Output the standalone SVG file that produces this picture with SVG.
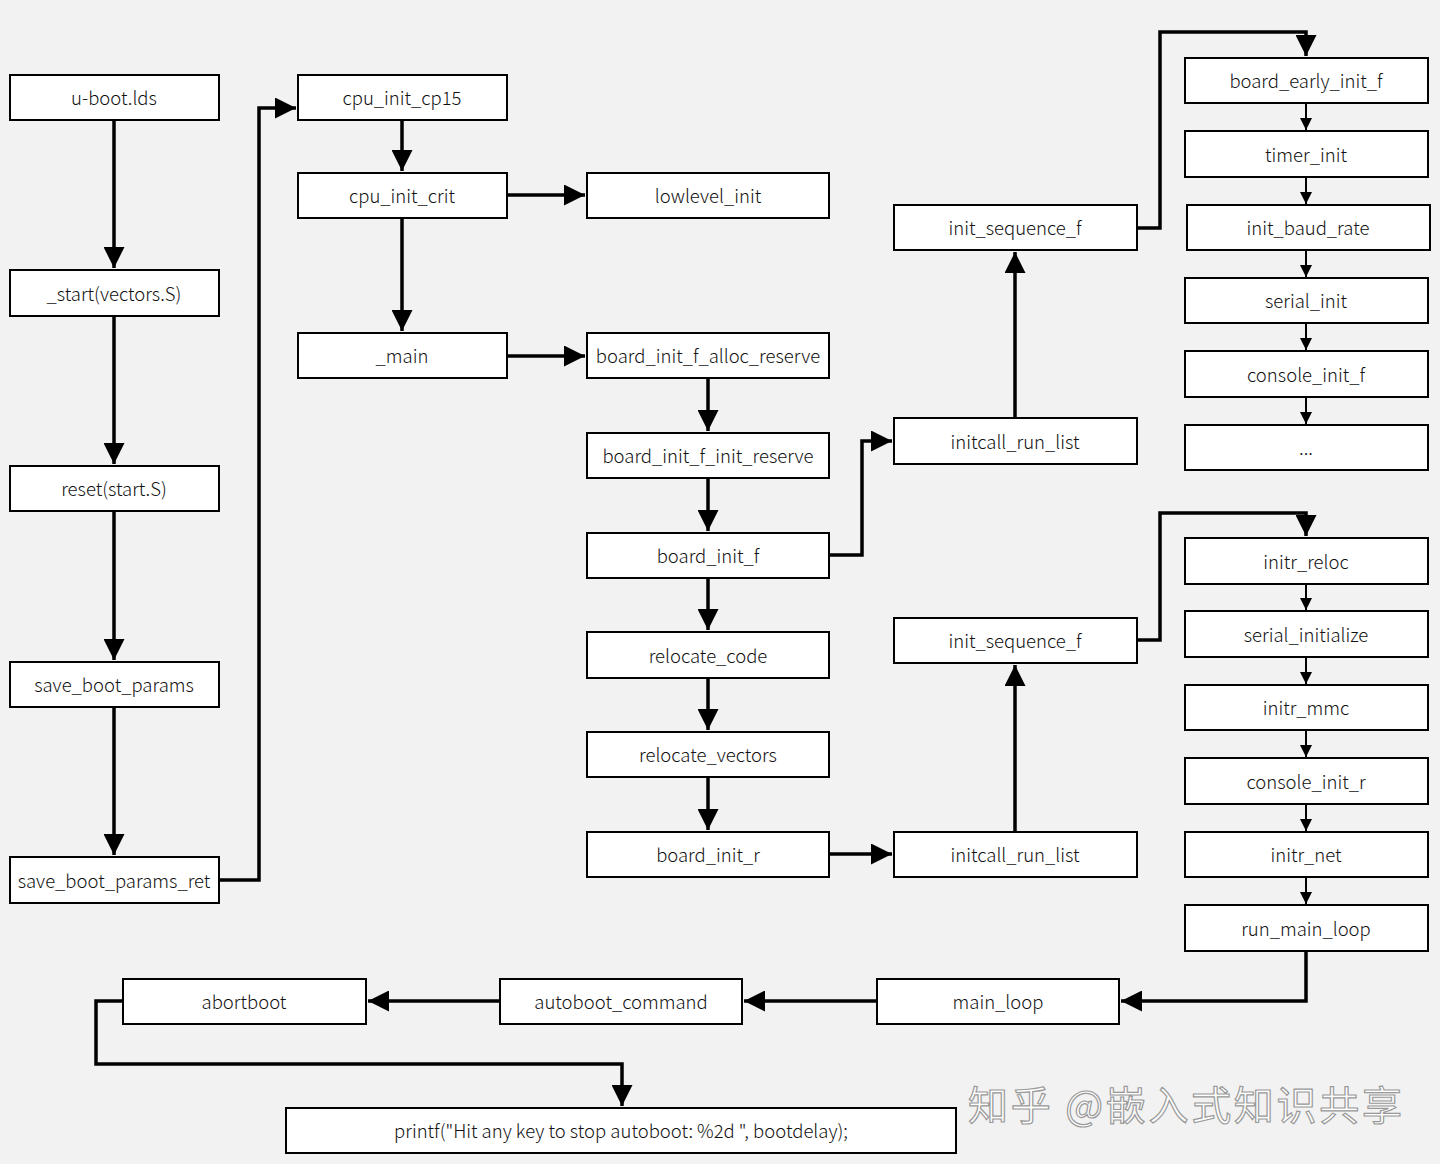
<svg xmlns="http://www.w3.org/2000/svg" width="1440" height="1164" viewBox="0 0 1440 1164">
<style>
.b{fill:#fff;stroke:#000;stroke-width:2}
.t{font-family:"Noto Sans CJK SC","Noto Sans",sans-serif;font-size:18.5px;font-weight:300;fill:#111;text-anchor:middle;dominant-baseline:central}
.c{fill:none;stroke:#000;stroke-width:3.5}
.s{fill:none;stroke:#000;stroke-width:2}
.w{font-family:"Noto Sans CJK SC",sans-serif;font-size:40px;fill:#fff;stroke:#999;stroke-width:1.2}
</style>
<defs>
<marker id="a" viewBox="0 0 10 10" refX="10" refY="5" markerWidth="6" markerHeight="6" markerUnits="strokeWidth" orient="auto"><path d="M0,0L10,5L0,10z"/></marker>
<marker id="m" viewBox="0 0 10 10" refX="10" refY="5" markerWidth="6" markerHeight="6" markerUnits="strokeWidth" orient="auto"><path d="M0,0L10,5L0,10z"/></marker>
</defs>
<rect width="1440" height="1164" fill="#f2f2f2"/>
<g id="connectors">
<path class="c" marker-end="url(#a)" d="M114,120V268"/>
<path class="c" marker-end="url(#a)" d="M114,316V464"/>
<path class="c" marker-end="url(#a)" d="M114,511V660"/>
<path class="c" marker-end="url(#a)" d="M114,707V855"/>
<path class="c" marker-end="url(#a)" d="M219,880H259V108H296"/>
<path class="c" marker-end="url(#a)" d="M402,120V171"/>
<path class="c" marker-end="url(#a)" d="M402,218V331"/>
<path class="c" marker-end="url(#a)" d="M507,195H585"/>
<path class="c" marker-end="url(#a)" d="M507,356H585"/>
<path class="c" marker-end="url(#a)" d="M708,378V431"/>
<path class="c" marker-end="url(#a)" d="M708,478V531"/>
<path class="c" marker-end="url(#a)" d="M708,578V630"/>
<path class="c" marker-end="url(#a)" d="M708,678V730"/>
<path class="c" marker-end="url(#a)" d="M708,777V830"/>
<path class="c" marker-end="url(#a)" d="M829,555H862V441H892"/>
<path class="c" marker-end="url(#a)" d="M1015,418V252"/>
<path class="c" marker-end="url(#a)" d="M1137,228H1160V32H1306V56"/>
<path class="c" marker-end="url(#a)" d="M829,854H892"/>
<path class="c" marker-end="url(#a)" d="M1015,832V665"/>
<path class="c" marker-end="url(#a)" d="M1137,640H1160V513H1306V536"/>
<path class="c" marker-end="url(#a)" d="M1306,951V1001H1121"/>
<path class="c" marker-end="url(#a)" d="M877,1001H744"/>
<path class="c" marker-end="url(#a)" d="M500,1001H368"/>
<path class="c" marker-end="url(#a)" d="M123,1001H96V1064H622V1106"/>
<path class="s" marker-end="url(#m)" d="M1306,103V130"/>
<path class="s" marker-end="url(#m)" d="M1306,177V204"/>
<path class="s" marker-end="url(#m)" d="M1306,250V277"/>
<path class="s" marker-end="url(#m)" d="M1306,323V350"/>
<path class="s" marker-end="url(#m)" d="M1306,397V424"/>
<path class="s" marker-end="url(#m)" d="M1306,584V610"/>
<path class="s" marker-end="url(#m)" d="M1306,657V684"/>
<path class="s" marker-end="url(#m)" d="M1306,730V757"/>
<path class="s" marker-end="url(#m)" d="M1306,804V831"/>
<path class="s" marker-end="url(#m)" d="M1306,877V904"/>
</g>
<g id="n1"><rect class="b" x="10" y="75" width="209" height="45"/><text class="t" x="114" y="97">u-boot.lds</text></g>
<g id="n2"><rect class="b" x="10" y="270" width="209" height="46"/><text class="t" x="114" y="293">_start(vectors.S)</text></g>
<g id="n3"><rect class="b" x="10" y="466" width="209" height="45"/><text class="t" x="114" y="488">reset(start.S)</text></g>
<g id="n4"><rect class="b" x="10" y="662" width="209" height="45"/><text class="t" x="114" y="684">save_boot_params</text></g>
<g id="n5"><rect class="b" x="10" y="857" width="209" height="46"/><text class="t" x="114" y="880">save_boot_params_ret</text></g>
<g id="n6"><rect class="b" x="298" y="75" width="209" height="45"/><text class="t" x="402" y="97">cpu_init_cp15</text></g>
<g id="n7"><rect class="b" x="298" y="173" width="209" height="45"/><text class="t" x="402" y="195">cpu_init_crit</text></g>
<g id="n8"><rect class="b" x="298" y="333" width="209" height="45"/><text class="t" x="402" y="355">_main</text></g>
<g id="n9"><rect class="b" x="587" y="173" width="242" height="45"/><text class="t" x="708" y="195">lowlevel_init</text></g>
<g id="n10"><rect class="b" x="587" y="333" width="242" height="45"/><text class="t" x="708" y="355">board_init_f_alloc_reserve</text></g>
<g id="n11"><rect class="b" x="587" y="433" width="242" height="45"/><text class="t" x="708" y="455">board_init_f_init_reserve</text></g>
<g id="n12"><rect class="b" x="587" y="533" width="242" height="45"/><text class="t" x="708" y="555">board_init_f</text></g>
<g id="n13"><rect class="b" x="587" y="632" width="242" height="46"/><text class="t" x="708" y="655">relocate_code</text></g>
<g id="n14"><rect class="b" x="587" y="732" width="242" height="45"/><text class="t" x="708" y="754">relocate_vectors</text></g>
<g id="n15"><rect class="b" x="587" y="832" width="242" height="45"/><text class="t" x="708" y="854">board_init_r</text></g>
<g id="n16"><rect class="b" x="894" y="205" width="243" height="45"/><text class="t" x="1015" y="227">init_sequence_f</text></g>
<g id="n17"><rect class="b" x="894" y="418" width="243" height="46"/><text class="t" x="1015" y="441">initcall_run_list</text></g>
<g id="n18"><rect class="b" x="894" y="618" width="243" height="45"/><text class="t" x="1015" y="640">init_sequence_f</text></g>
<g id="n19"><rect class="b" x="894" y="832" width="243" height="45"/><text class="t" x="1015" y="854">initcall_run_list</text></g>
<g id="n20"><rect class="b" x="1185" y="58" width="243" height="45"/><text class="t" x="1306" y="80">board_early_init_f</text></g>
<g id="n21"><rect class="b" x="1185" y="131" width="243" height="46"/><text class="t" x="1306" y="154">timer_init</text></g>
<g id="n22"><rect class="b" x="1187" y="205" width="243" height="45"/><text class="t" x="1308" y="227">init_baud_rate</text></g>
<g id="n23"><rect class="b" x="1185" y="278" width="243" height="45"/><text class="t" x="1306" y="300">serial_init</text></g>
<g id="n24"><rect class="b" x="1185" y="351" width="243" height="46"/><text class="t" x="1306" y="374">console_init_f</text></g>
<g id="n25"><rect class="b" x="1185" y="425" width="243" height="45"/><text class="t" x="1306" y="447">...</text></g>
<g id="n26"><rect class="b" x="1185" y="538" width="243" height="46"/><text class="t" x="1306" y="561">initr_reloc</text></g>
<g id="n27"><rect class="b" x="1185" y="611" width="243" height="46"/><text class="t" x="1306" y="634">serial_initialize</text></g>
<g id="n28"><rect class="b" x="1185" y="685" width="243" height="45"/><text class="t" x="1306" y="707">initr_mmc</text></g>
<g id="n29"><rect class="b" x="1185" y="758" width="243" height="46"/><text class="t" x="1306" y="781">console_init_r</text></g>
<g id="n30"><rect class="b" x="1185" y="832" width="243" height="45"/><text class="t" x="1306" y="854">initr_net</text></g>
<g id="n31"><rect class="b" x="1185" y="905" width="243" height="46"/><text class="t" x="1306" y="928">run_main_loop</text></g>
<g id="n32"><rect class="b" x="877" y="979" width="242" height="45"/><text class="t" x="998" y="1001">main_loop</text></g>
<g id="n33"><rect class="b" x="500" y="979" width="242" height="45"/><text class="t" x="621" y="1001">autoboot_command</text></g>
<g id="n34"><rect class="b" x="123" y="979" width="243" height="45"/><text class="t" x="244" y="1001">abortboot</text></g>
<g id="n35"><rect class="b" x="286" y="1108" width="670" height="45"/><text class="t" x="621" y="1130">printf("Hit any key to stop autoboot: %2d ", bootdelay);</text></g>
<text class="w" x="968" y="1120" textLength="434">知乎 @嵌入式知识共享</text>
</svg>
